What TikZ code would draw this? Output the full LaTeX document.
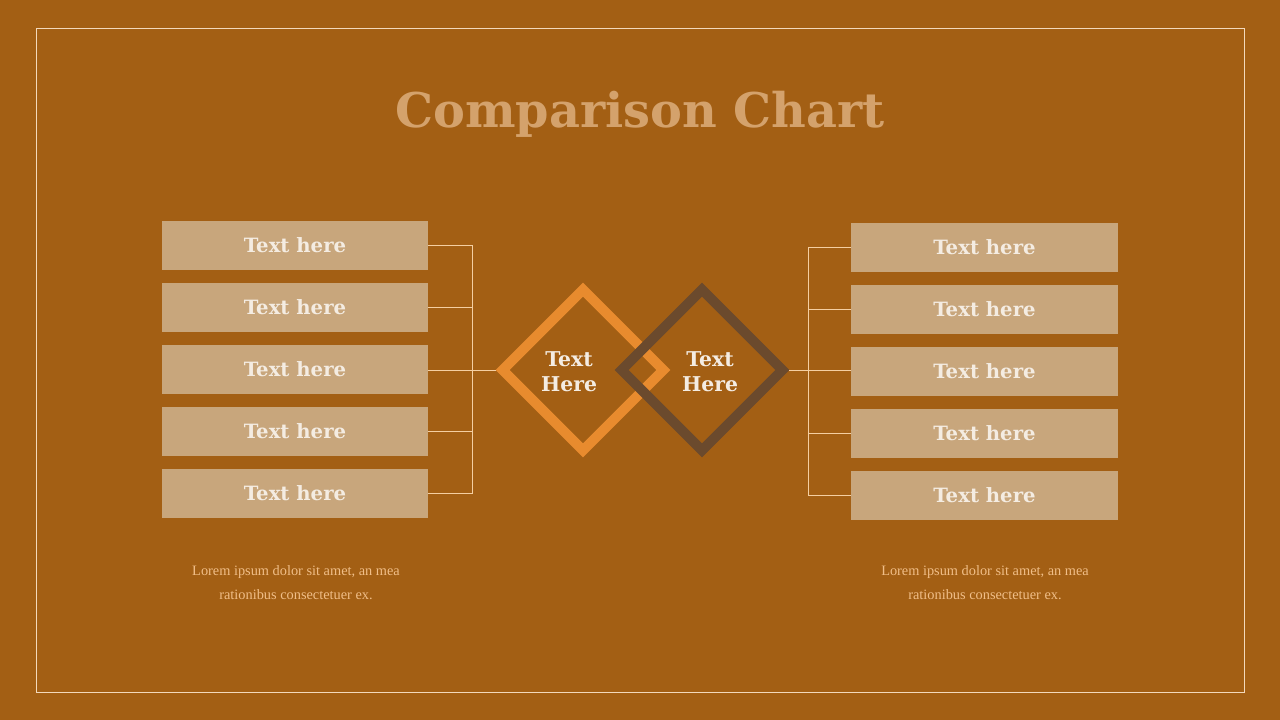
\documentclass[tikz,border=0pt]{standalone}
\usepackage{fontspec}
\setmainfont{DejaVu Serif}
\newfontfamily\lorem{Liberation Serif}
\usetikzlibrary{shapes.geometric,positioning}
\definecolor{bgcol}{HTML}{A35F14}
\definecolor{boxcol}{HTML}{C8A67C}
\definecolor{linecol}{HTML}{F5CFA2}
\definecolor{framecol}{HTML}{F3D9BC}
\definecolor{orangecol}{HTML}{E88B2E}
\definecolor{browncol}{HTML}{6B4A2D}
\definecolor{labelcol}{HTML}{F4ECE2}
\definecolor{titlecol}{HTML}{D4A26C}
\definecolor{loremcol}{HTML}{F0BE88}
\tikzset{
  itembox/.style={fill=boxcol, minimum width=6.65cm, minimum height=1.225cm, inner sep=0pt,
    text=labelcol, font=\fontsize{14}{16}\selectfont\bfseries, text depth=0.5pt},
  joinline/.style={draw=linecol, line width=0.7pt},
  frameline/.style={draw=framecol, line width=0.6pt},
  rhomb/.style={diamond, line width=7pt, minimum width=4.12cm, minimum height=4.12cm, inner sep=0pt},
  rhombtext/.style={text=labelcol, align=center, font=\fontsize{14.5}{17.7}\selectfont\bfseries},
  loremtext/.style={text=loremcol, align=center, font=\lorem\fontsize{10.2}{17}\selectfont}
}

\begin{document}
\begin{tikzpicture}[x=0.025cm,y=-0.025cm]
  \useasboundingbox[fill=bgcol] (0,0) rectangle (1280,720);
  \draw[frameline] (36,28) rectangle (1244,692);
  \node[text=titlecol, font=\fontsize{34}{38}\selectfont\bfseries] (title) at (640,114) {Comparison Chart};
  % boxes on both sides
  \foreach \i in {1,...,5} {
    \node[itembox] (lbox\i) at (295,{245.5+62*(\i-1)}) {Text here};
    \node[itembox] (rbox\i) at (984.5,{247.5+62*(\i-1)}) {Text here};
  }
  % the two diamonds, brown on top
  \node[rhomb, draw=orangecol] (dleft) at (583,370) {};
  \node[rhomb, draw=browncol] (dright) at (702,370) {};
  \node[rhombtext] (tleft) at (569,372) {Text\\Here};
  \node[rhombtext] (tright) at (710,372) {Text\\Here};
  % brackets
  \coordinate (ltop) at (472,245.5);
  \coordinate (lbot) at (472,493.5);
  \coordinate (rtop) at (808,247.5);
  \coordinate (rbot) at (808,495.5);
  \draw[joinline] (ltop) -- (lbot);
  \draw[joinline] (rtop) -- (rbot);
  \foreach \i in {1,2,4,5} {
    \draw[joinline] (lbox\i.east) -- (lbox\i.east -| ltop);
    \draw[joinline] (rbox\i.west) -- (rbox\i.west -| rtop);
  }
  \draw[joinline] (dleft.west -| lbox3.east) -- (dleft.west);
  \draw[joinline] (dright.east) -- (dright.east -| rbox3.west);
  % notes
  \node[loremtext] (lnote) at (296,583) {Lorem ipsum dolor sit amet, an mea\\rationibus consectetuer ex.};
  \node[loremtext] (rnote) at (985,583) {Lorem ipsum dolor sit amet, an mea\\rationibus consectetuer ex.};
\end{tikzpicture}
\end{document}
